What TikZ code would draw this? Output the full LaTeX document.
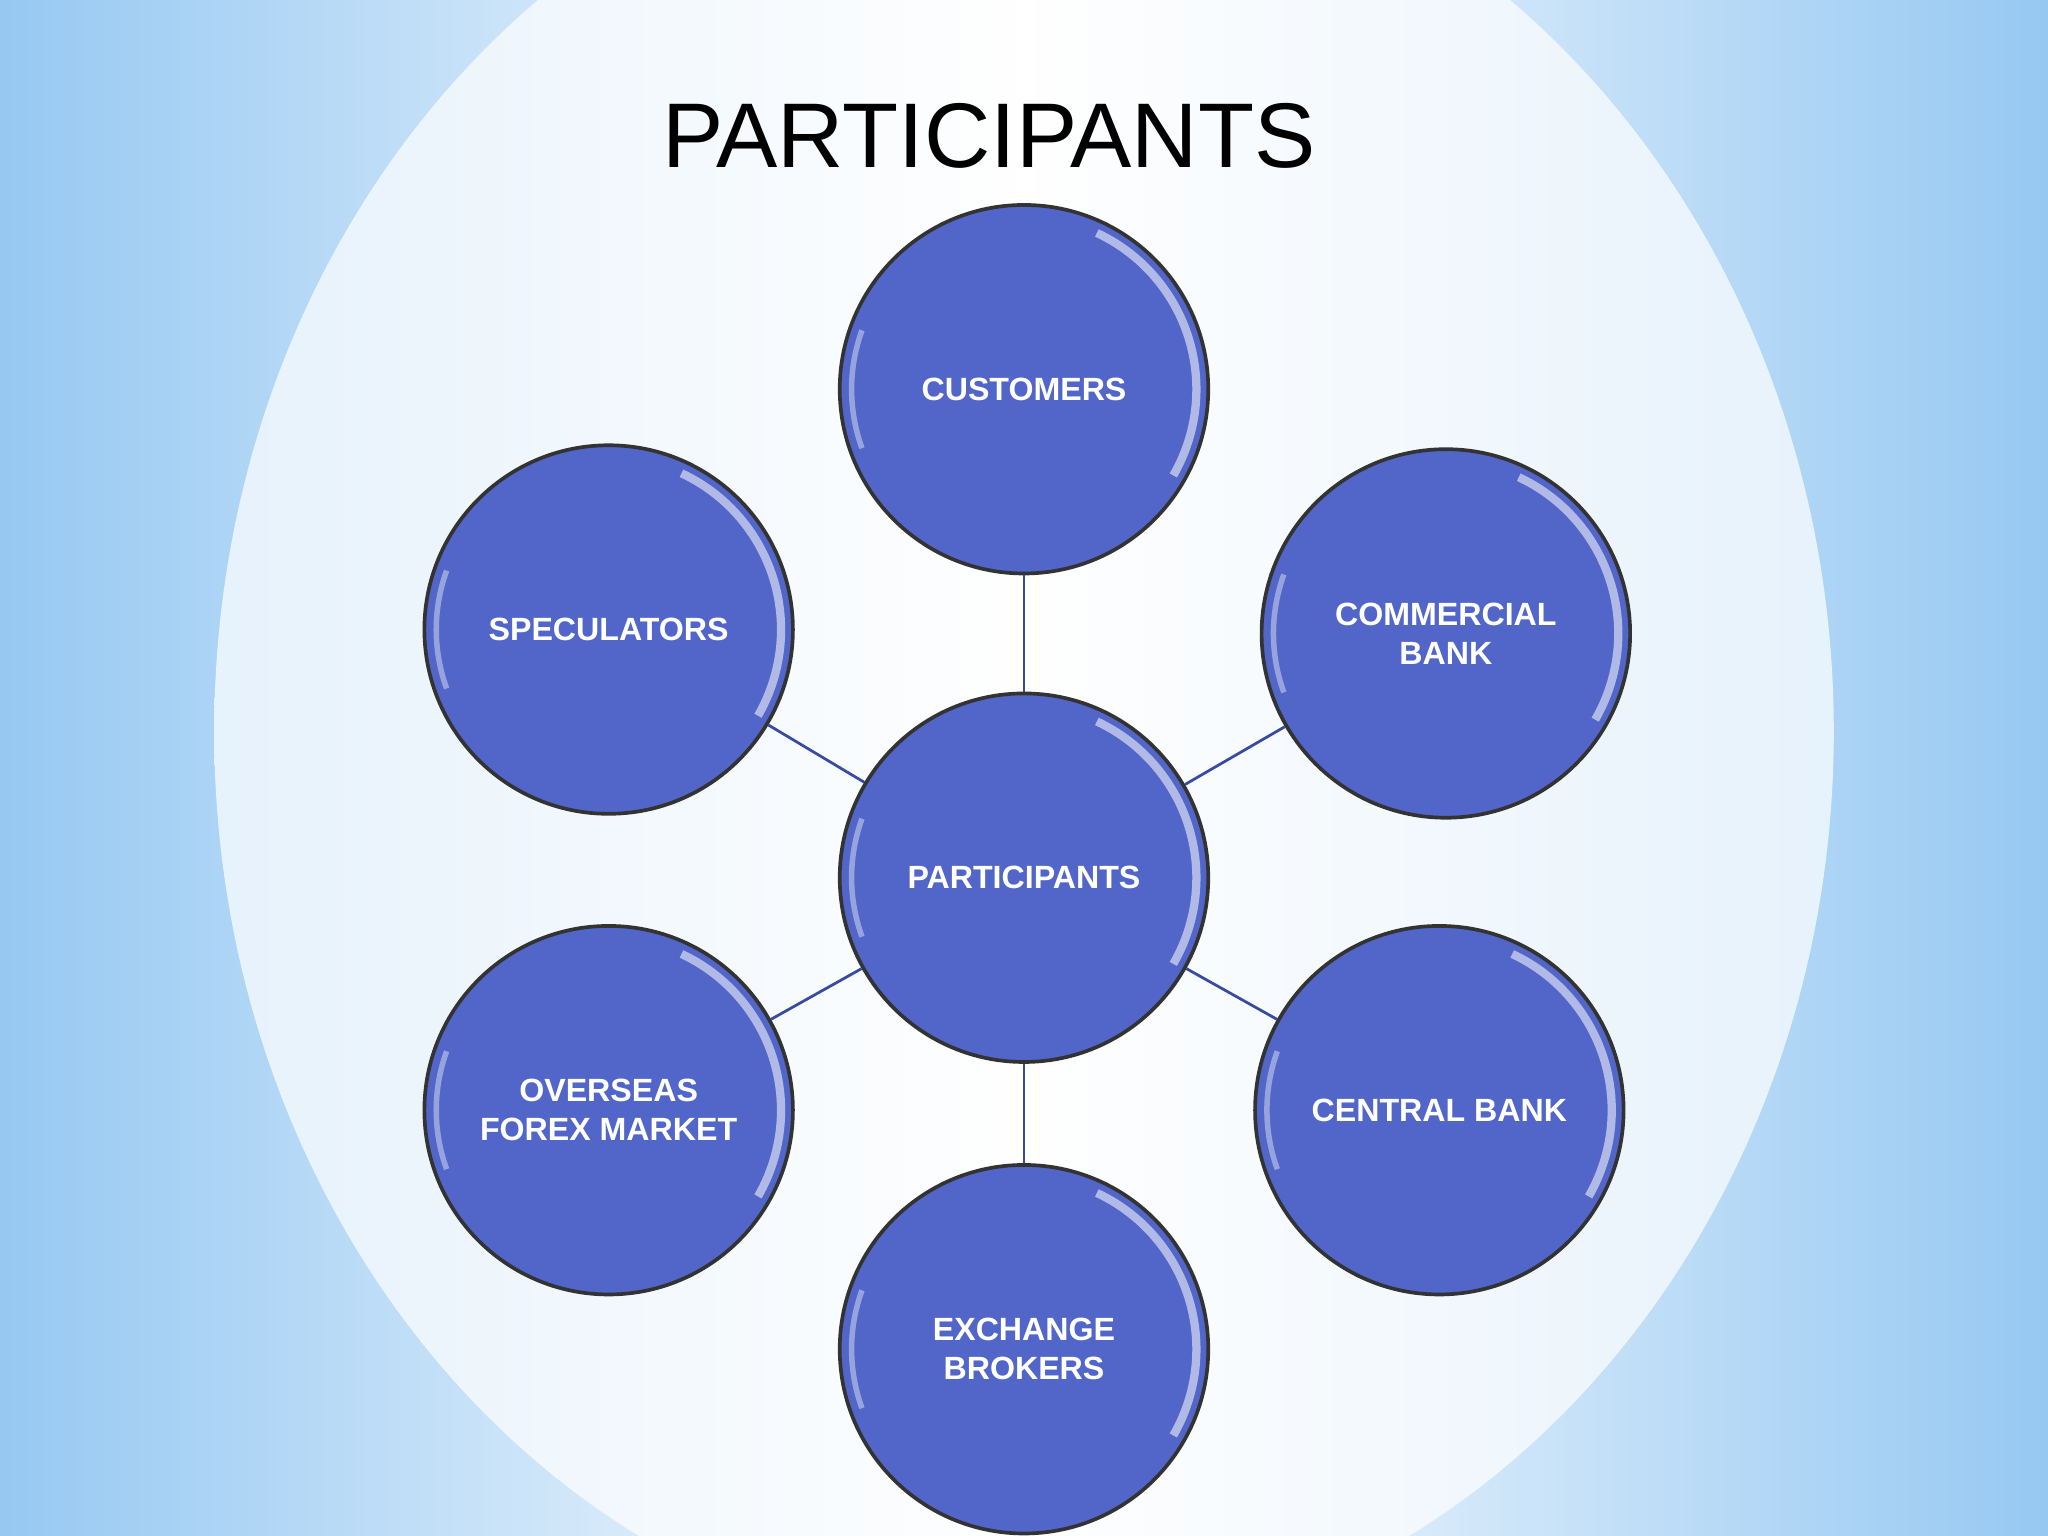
\documentclass[tikz,border=0pt]{standalone}
\usepackage{fontspec}
\setmainfont{Liberation Sans}
\definecolor{bub}{RGB}{81,102,200}
\definecolor{edgeb}{RGB}{150,200,242}
\definecolor{lnk}{RGB}{55,75,160}
\begin{document}
\begin{tikzpicture}[x=0.01cm,y=-0.01cm,
  bubble/.style={circle,minimum size=2.82cm,fill=bub,draw=black!80,line width=0.8pt,
     text=white,font=\bfseries\fontsize{7}{8.5}\selectfont,align=center,inner sep=0pt},
  link/.style={draw=lnk,line width=0.6pt},
  hilite/.style={white!55!bub,line width=1.8pt}]
\useasboundingbox (0,0) rectangle (1568,1176);
\shade[left color=edgeb,right color=edgeb,middle color=white] (0,0) rectangle (1568,1176);
\shade[inner color=white,outer color=white,opacity=0.6] (0,0) rectangle (0,0);
\begin{scope}
\clip (0,0) rectangle (1568,1176);
\shade[inner color=white,outer color=edgeb!0,fill opacity=0.7] (784,560) ellipse (620 and 700);
\end{scope}
\node[font=\fontsize{20}{24}\selectfont] (title) at (757,104) {PARTICIPANTS};
\node[bubble] (c) at (784,672) {PARTICIPANTS};
\node[bubble] (cu) at (784,298) {CUSTOMERS};
\node[bubble] (sp) at (466,482) {SPECULATORS};
\node[bubble] (cb) at (1107,485) {COMMERCIAL\\BANK};
\node[bubble] (ov) at (466,850) {OVERSEAS\\FOREX MARKET};
\node[bubble] (ce) at (1102,850) {CENTRAL BANK};
\node[bubble] (ex) at (784,1033) {EXCHANGE\\BROKERS};
\foreach \n in {cu,sp,cb,ov,ce,ex} \draw[link] (c) -- (\n);
\foreach \n in {c,cu,sp,cb,ov,ce,ex}{
  \draw[hilite] (\n) ++(-65:132) arc (-65:30:132);
  \draw[white!40!bub,line width=1.2pt] (\n) ++(160:132) arc (160:200:132);
}
\end{tikzpicture}
\end{document}
